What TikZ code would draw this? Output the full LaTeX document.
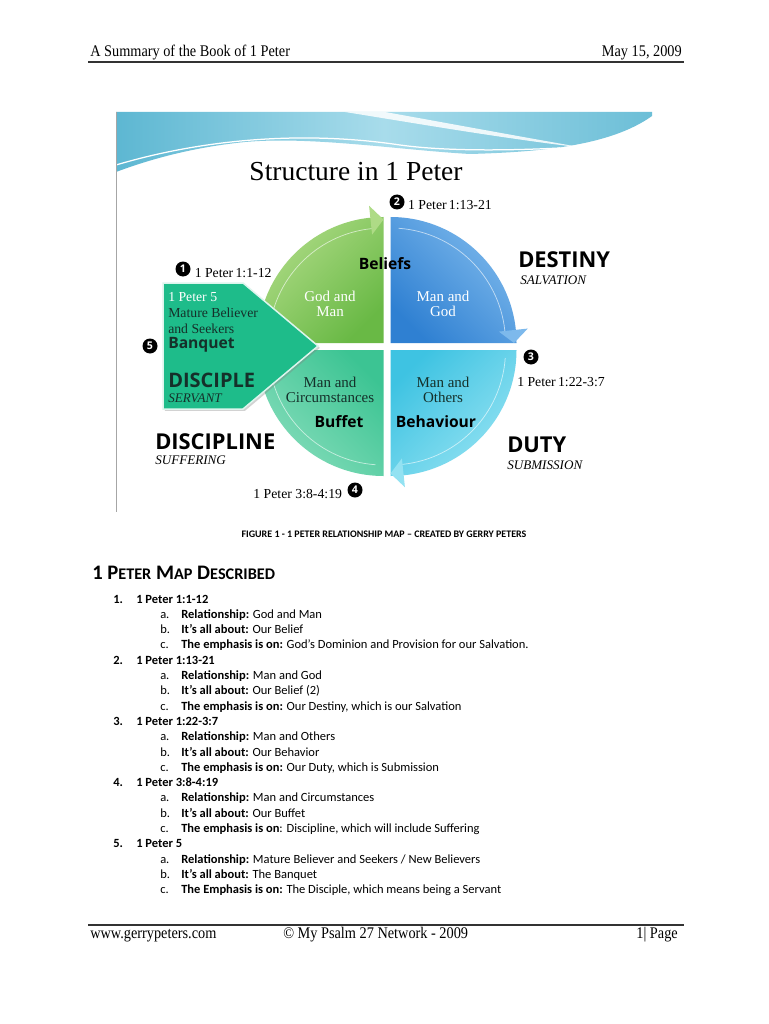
\documentclass[tikz,border=0pt]{standalone}
\usepackage{fontspec}
\setmainfont{Liberation Serif}
\newfontfamily\osans{Open Sans}
\newfontfamily\carlito{Carlito}
\usepackage{graphicx}
\usepackage{tikz}
\usetikzlibrary{positioning,shadows}
\tikzset{>=latex}

\definecolor{gmlight}{HTML}{AEDB86}
\definecolor{gmdark}{HTML}{69B945}
\definecolor{bllight}{HTML}{7DB9EC}
\definecolor{bldark}{HTML}{2F80D2}
\definecolor{cylight}{HTML}{93E2F2}
\definecolor{cydark}{HTML}{3EC3E2}
\definecolor{tllight}{HTML}{86DDBB}
\definecolor{tldark}{HTML}{3CC493}
\definecolor{pent}{HTML}{1EBC8A}
\definecolor{wavea}{HTML}{5DB7D2}
\definecolor{waveb}{HTML}{A8DCEB}
\definecolor{inkdark}{HTML}{15302A}

\newcommand\mapsc[1]{{\fontsize{13}{14}\selectfont #1}}

\tikzset{
  ttl/.style={inner sep=0, font=\fontsize{22}{24}\selectfont},
  qlabel/.style={inner sep=0, align=center, font=\fontsize{12}{12.5}\selectfont},
  keyword/.style={inner sep=0, font=\osans\bfseries\fontsize{12.5}{14}\selectfont},
  bigword/.style={anchor=west, inner sep=0, font=\osans\bfseries\fontsize{17.5}{18}\selectfont},
  subword/.style={anchor=west, inner sep=0, font=\itshape\fontsize{10.5}{12}\selectfont},
  badge/.style={circle, fill=black, text=white, inner sep=0, minimum size=12pt, font=\osans\bfseries\fontsize{8.5}{9}\selectfont},
  vref/.style={inner sep=0, font=\fontsize{11}{12}\selectfont},
  pline/.style={anchor=west, inner sep=0, font=\fontsize{11}{12}\selectfont},
  hdr/.style={inner sep=0, font=\fontsize{13}{14}\selectfont},
  lst/.style={anchor=base west, inner sep=0, font=\carlito\fontsize{10}{12}\selectfont},
}

\begin{document}
\begin{tikzpicture}[x=0.8pt,y=0.8pt]
  \useasboundingbox[fill=white] (0,0) rectangle (768,-1024);

  \node[hdr, anchor=base west] (hleft) at (90,-57) {\scalebox{0.88}[1]{A Summary of the Book of 1 Peter}};
  \node[hdr, anchor=base east] (hright) at (682,-57) {\scalebox{0.88}[1]{May 15, 2009}};
  \draw[line width=0.9pt, black!80] (88,-62) -- (684,-62);

  \shade[left color=wavea, right color=wavea!80!waveb, middle color=waveb] (116,-112) -- (652,-112) -- (652,-116) .. controls (610,-146) and (540,-152) .. (470,-154) .. controls (400,-150) and (310,-136) .. (245,-142) .. controls (185,-148) and (140,-163) .. (116,-172) -- cycle;
  \fill[white, opacity=0.85] (345,-112) .. controls (420,-124) and (500,-138) .. (585,-148) .. controls (500,-133) and (430,-120) .. (385,-112) -- cycle;
  \draw[white, line width=1pt] (116,-165) .. controls (200,-140) and (300,-130) .. (400,-145) .. controls (450,-152) and (520,-150) .. (560,-148);
  \draw[gray!70, line width=0.8pt] (116,-112) -- (116,-512);

  \node[ttl] (title) at (356,-172) {Structure in 1 Peter};

  \foreach \s/\e/\a/\cx/\cy/\lc/\dc in {180/90/45/383.5/-343/gmlight/gmdark, 90/0/-45/390.5/-343/bllight/bldark, 0/-90/-135/390.5/-350/cylight/cydark, -90/-180/135/383.5/-350/tllight/tldark}{
    \pgfmathsetmacro\ia{\s-4}
    \pgfmathsetmacro\ib{\s-84}
    \begin{scope}[shift={(\cx,\cy)}]
      \shade[top color=\lc, bottom color=\dc, shading angle=\a] (0,0) -- (\s:126) arc[start angle=\s, end angle=\e, radius=126] -- cycle;
      \fill[\lc] (\ib:109) -- (\e:123.5) -- (\ib:138) -- cycle;
      \draw[white, opacity=0.6, line width=0.6pt] (\ia:115) arc[start angle=\ia, end angle=\ib, radius=115];
    \end{scope}
  }

  \fill[pent, draw=white!85!pent, line width=1.2pt, drop shadow={opacity=0.35, shadow xshift=1.5pt, shadow yshift=-1.5pt}] (163,-283) -- (243,-283) -- (318,-346) -- (243,-409) -- (163,-409) -- cycle;
  \node[pline, text=white] (peter5) at (168,-297) {1 Peter 5};
  \node[pline, text=inkdark] (mature) at (168,-313) {Mature Believer};
  \node[pline, text=inkdark] (seekers) at (168,-329) {and Seekers};
  \node[keyword, anchor=west, text=inkdark] (banquet) at (168,-345) {Banquet};
  \node[bigword, text=inkdark, font=\osans\bfseries\fontsize{16}{17}\selectfont] (disciple) at (168,-380) {DISCIPLE};
  \node[subword, text=inkdark] (servant) at (168,-398) {SERVANT};

  \node[qlabel, text=white] (godman) at (330,-304) {God and\\Man};
  \node[qlabel, text=white] (mangod) at (443,-304) {Man and\\God};
  \node[qlabel, text=inkdark] (others) at (443,-390) {Man and\\Others};
  \node[qlabel, text=inkdark] (circum) at (330,-390) {Man and\\Circumstances};

  \node[keyword] (beliefs) at (385,-264) {Beliefs};
  \node[keyword] (buffet) at (339,-422) {Buffet};
  \node[keyword] (behaviour) at (436,-422) {Behaviour};

  \node[bigword] (destiny) at (518,-260) {DESTINY};
  \node[subword] (salvation) at (520,-280) {SALVATION};
  \node[bigword] (duty) at (507,-445) {DUTY};
  \node[subword] (submission) at (507,-465) {SUBMISSION};
  \node[bigword] (discipline) at (155,-442) {DISCIPLINE};
  \node[subword] (suffering) at (155,-460) {SUFFERING};

  \node[badge] (b1) at (183,-269) {1};
  \node[badge] (b2) at (397,-202) {2};
  \node[badge] (b3) at (531,-357) {3};
  \node[badge] (b4) at (355,-490) {4};
  \node[badge] (b5) at (150,-346) {5};
  \node[vref, right=3pt of b1, yshift=-3pt] (r1) {1 Peter\,1:1-12};
  \node[vref, right=2.5pt of b2, yshift=-2.5pt] (r2) {1 Peter\,1:13-21};
  \node[vref, anchor=west] (r3) at (517,-382) {1 Peter\,1:22-3:7};
  \node[vref, left=4pt of b4, yshift=-3pt] (r4) {1 Peter 3:8-4:19};

  \node[inner sep=0, font=\carlito\bfseries\fontsize{8}{9}\selectfont] (caption) at (384,-534) {FIGURE 1 - 1 PETER RELATIONSHIP MAP – CREATED BY GERRY PETERS};
  \node[anchor=base west, inner sep=0, font=\carlito\bfseries\fontsize{16.5}{18}\selectfont] (heading) at (92,-579) {1 P\mapsc{ETER} M\mapsc{AP} D\mapsc{ESCRIBED}};

  \foreach \n/\pref/\rel/\abt/\lab/\txt in {
      1/{1 Peter 1:1-12}/{God and Man}/{Our Belief}/{The emphasis is on:}/{God’s Dominion and Provision for our Salvation.},
      2/{1 Peter 1:13-21}/{Man and God}/{Our Belief (2)}/{The emphasis is on:}/{Our Destiny, which is our Salvation},
      3/{1 Peter 1:22-3:7}/{Man and Others}/{Our Behavior}/{The emphasis is on:}/{Our Duty, which is Submission},
      4/{1 Peter 3:8-4:19}/{Man and Circumstances}/{Our Buffet}/{The emphasis is on\textmd{:}}/{Discipline, which will include Suffering},
      5/{1 Peter 5}/{Mature Believer and Seekers / New Believers}/{The Banquet}/{The Emphasis is on:}/{The Disciple, which means being a Servant}}{
    \pgfmathsetmacro\yb{-(603+61.2*(\n-1))}
    \node[lst] (num\n) at (113,\yb) {\textbf{\n.}};
    \node[lst] (ref\n) at (136,\yb) {\textbf{\pref}};
    \node[lst] (la\n) at (160,\yb-15.3) {a.};
    \node[lst] (rel\n) at (181,\yb-15.3) {\textbf{Relationship:} \rel};
    \node[lst] (lb\n) at (160,\yb-30.6) {b.};
    \node[lst] (abt\n) at (181,\yb-30.6) {\textbf{It’s all about:} \abt};
    \node[lst] (lc\n) at (160,\yb-45.9) {c.};
    \node[lst] (emp\n) at (181,\yb-45.9) {\textbf{\lab} \txt};
  }

  \draw[line width=0.9pt, black!80] (88,-925) -- (684,-925);
  \node[hdr, anchor=base west] (site) at (90,-938) {\scalebox{0.88}[1]{www.gerrypeters.com}};
  \node[hdr, anchor=base west] (copyright) at (283,-938) {\scalebox{0.88}[1]{© My Psalm 27 Network - 2009}};
  \node[hdr, anchor=base east] (page) at (678,-938) {\scalebox{0.88}[1]{1| Page}};
\end{tikzpicture}
\end{document}
